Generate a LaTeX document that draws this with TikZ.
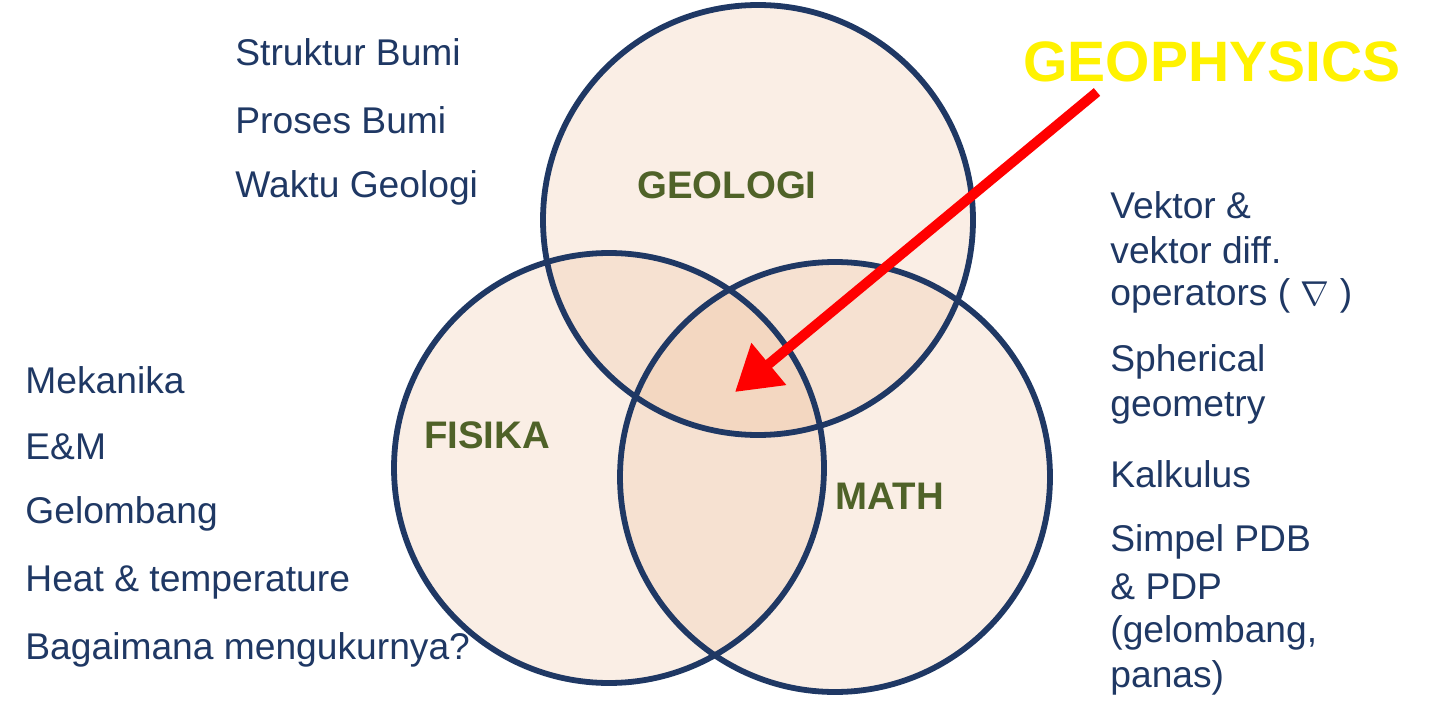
\documentclass[tikz,border=0pt]{standalone}
\usepackage{fontspec}
\setmainfont{Liberation Sans}
\usetikzlibrary{arrows.meta}
\definecolor{navy}{HTML}{1F3864}
\definecolor{peach}{HTML}{EBB48C}
\definecolor{lab}{HTML}{4F6228}
\begin{document}
\begin{tikzpicture}[x=0.5pt,y=-0.5pt,
  txt/.style={anchor=west,text=navy,font=\fontsize{18.6}{22}\selectfont,inner sep=0},
  lbl/.style={text=lab,font=\bfseries\fontsize{19.2}{22}\selectfont},
  circ/.style={draw=navy,line width=2.9pt}]
\useasboundingbox (0,0) rectangle (1440,722);
\fill[white] (0,0) rectangle (1440,722);
\foreach \c in {(758,220),(609,468),(835,477)}
  \fill[peach,fill opacity=0.22] \c circle (215);
\draw[circ] (758,220) circle (215);
\draw[circ] (609,468) circle (215);
\draw[circ] (835,477) circle (215);
\node[lbl] (geo) at (727,185) {GEOLOGI};
\node[lbl] (fis) at (487,435) {FISIKA};
\node[lbl] (mat) at (890,496) {MATH};
\node[text=yellow,font=\bfseries\fontsize{28.5}{32}\selectfont] (gp) at (1212,62) {GEOPHYSICS};
\coordinate (s) at (1097,92);
\coordinate (e) at (735,392);
\draw[red,line width=5pt,-{Triangle[length=22pt,width=26pt]}] (s) -- (e);
\node[txt] (a1) at (235,52) {Struktur Bumi};
\node[txt] (a2) at (235,120) {Proses Bumi};
\node[txt] (a3) at (235,188) {Waktu Geologi};
\node[txt] (b1) at (25,380) {Mekanika};
\node[txt] (b2) at (25,447) {E\&M};
\node[txt] (b3) at (25,514) {Gelombang};
\node[txt] (b4) at (25,582) {Heat \& temperature};
\node[txt] (b5) at (25,650) {Bagaimana mengukurnya?};
\node[txt] (c1) at (1110,205) {Vektor \&};
\node[txt] (c2) at (1110,250) {vektor diff.};
\node[txt] (c3) at (1110,296) {operators ( $\nabla$ )};
\node[txt] (c4) at (1110,362) {Spherical};
\node[txt] (c5) at (1110,408) {geometry};
\node[txt] (c6) at (1110,474) {Kalkulus};
\node[txt] (c7) at (1110,542) {Simpel PDB};
\node[txt] (c8) at (1110,587) {\& PDP};
\node[txt] (c9) at (1110,633) {(gelombang,};
\node[txt] (c10) at (1110,678) {panas)};
\end{tikzpicture}
\end{document}
